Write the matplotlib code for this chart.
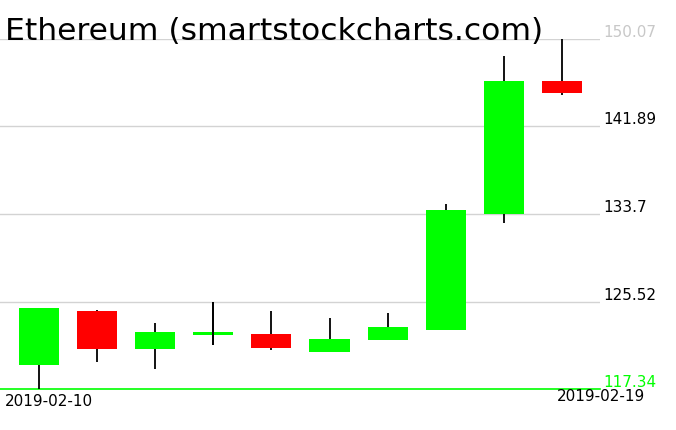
import numpy as np
import matplotlib
matplotlib.use("Agg")
import matplotlib.pyplot as plt

# daily OHLC values
dates = ["2019-02-10", "2019-02-11", "2019-02-12", "2019-02-13", "2019-02-14",
         "2019-02-15", "2019-02-16", "2019-02-17", "2019-02-18", "2019-02-19"]
opens = [119.61, 124.63, 121.08, 122.45, 122.48, 120.83, 121.95, 122.88, 133.70, 146.13]
highs = [124.95, 124.70, 123.51, 125.50, 124.63, 123.98, 124.44, 134.63, 148.49, 150.07]
lows = [117.34, 119.89, 119.24, 121.48, 121.01, 120.77, 121.90, 122.85, 132.88, 144.85]
closes = [124.91, 121.08, 122.67, 122.57, 121.20, 122.01, 123.13, 134.07, 146.13, 145.03]
level_labels = ["150.07", "141.89", "133.7", "125.52", "117.34"]

W, H = 676, 431
fig = plt.figure(figsize=(W / 100, H / 100), dpi=100)
ax = fig.add_axes([0, (H - 390) / H, 600 / W, 350 / H])

lo, hi = min(lows), max(highs)
x = np.arange(len(dates))
o = np.array(opens)
c = np.array(closes)
colors = np.where(c >= o, "#00ff00", "#ff0000")

# grid levels
levels = [float(s) for s in level_labels]
for lv, s in zip(levels, level_labels):
    if s == level_labels[-1]:
        ax.axhline(lv, color="#00ff00", lw=1.2, zorder=1, clip_on=False)
    else:
        ax.axhline(lv, color="#d3d3d3", lw=1, zorder=1)

ax.vlines(x, lows, highs, color="black", lw=1.3, zorder=2)
body = np.abs(c - o)
heights = np.maximum(body, 0.25)
bottoms = np.where(body < 0.25, (o + c) / 2 - 0.125, np.minimum(o, c))
ax.bar(x, heights, bottom=bottoms, width=0.69, color=colors, zorder=3)
# thin bodies still show the wick through them
thin = body < 0.25
ax.vlines(x[thin], np.array(lows)[thin], np.array(highs)[thin], color="black", lw=1.3, zorder=4)

ax.set_xlim(-0.677, 9.66)
ax.set_ylim(lo, hi)
ax.axis("off")

# right side labels
for lv, s in zip(levels, level_labels):
    col = "black"
    if s == level_labels[0]:
        col = "#c8c8c8"
    elif s == level_labels[-1]:
        col = "#00ff00"
    ax.text(1.005, lv, s, transform=ax.get_yaxis_transform(), ha="left", va="bottom",
            fontsize=11, color=col, clip_on=False)

fig.text(5 / W, 1 - 40 / H, "Ethereum (smartstockcharts.com)", fontsize=22.6,
         ha="left", va="baseline", color="black")
fig.text(5 / W, 1 - 406 / H, dates[0], fontsize=11, ha="left", va="baseline")
fig.text(645 / W, 1 - 401 / H, dates[-1], fontsize=11, ha="right", va="baseline")

fig.savefig("out.png", dpi=100)
